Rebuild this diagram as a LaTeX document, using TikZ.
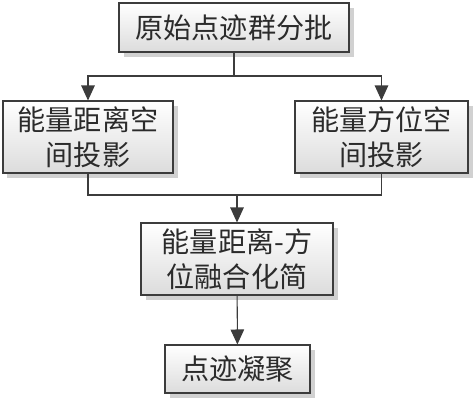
\documentclass[tikz,border=0pt]{standalone}
\usepackage{fontspec}
\usepackage{xcolor}
\usepackage{tikz}
\usetikzlibrary{arrows.meta, calc, positioning, shadows}
\newfontfamily\cjk{Noto Sans CJK SC}
\definecolor{edge}{HTML}{3C3C3C}
\definecolor{boxtop}{HTML}{FFFFFF}
\definecolor{boxbot}{HTML}{DCDCDC}
\definecolor{inkcol}{HTML}{2B2B2B}

\begin{document}
\begin{tikzpicture}[
  fbox/.style = {draw=edge, semithick, top color=boxtop, bottom color=boxbot, align=center, inner sep=1pt,
                 font=\cjk\fontsize{16}{20}\selectfont, text=inkcol,
                 drop shadow={shadow xshift=0.09cm, shadow yshift=-0.09cm, fill=black, opacity=0.18}},
  arr/.style  = {-{Triangle[length=0.3cm,width=0.27cm]}, semithick, color=edge},
  ln/.style   = {semithick, color=edge},
]
\useasboundingbox (0,0) rectangle (9.48,-8.04);
%%--- boxes ---
\node[fbox, minimum width=4.6cm,  minimum height=0.98cm] (batch) at (4.68, -0.55) {原始点迹群分批};
\node[fbox, minimum width=3.4cm,  minimum height=1.44cm] (rng)   at (1.76, -2.74) {能量距离空\\间投影};
\node[fbox, minimum width=3.46cm, minimum height=1.44cm] (azi)   at (7.63, -2.74) {能量方位空\\间投影};
\node[fbox, minimum width=3.84cm, minimum height=1.44cm] (fuse)  at (4.74, -5.18) {能量距离-方\\位融合化简};
\node[fbox, minimum width=2.9cm,  minimum height=0.96cm] (clus)  at (4.75, -7.38) {点迹凝聚};
%%--- split and join ---
\coordinate (split) at (batch.south |- 0,-1.52);
\coordinate (join)  at (fuse.north |- 0,-3.9);
\draw[ln] (batch.south)--(split);
\draw[arr] (split)-|(rng.north); \draw[arr] (split)-|(azi.north);
\draw[ln] (rng.south)|-(join); \draw[ln] (azi.south)|-(join);
\draw[arr] (join)--(fuse.north);
\draw[arr] (fuse)--(clus);
\end{tikzpicture}
\end{document}
